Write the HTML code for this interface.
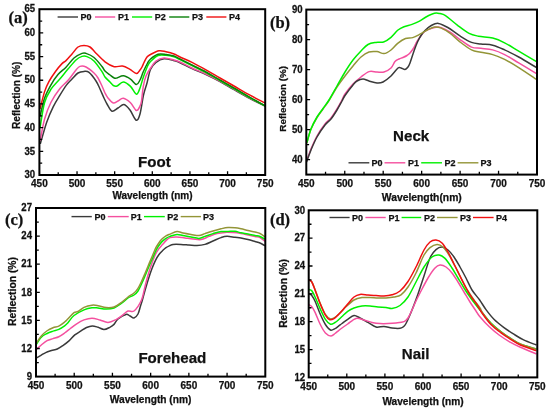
<!DOCTYPE html>
<html><head><meta charset="utf-8"><title>Reflection spectra</title>
<style>html,body{margin:0;padding:0;background:#fff;}body{width:550px;height:412px;overflow:hidden;}svg{display:block;}.t{font-family:'Liberation Sans', Arial, sans-serif;font-weight:bold;fill:#111;stroke:#111;stroke-width:0.25px;}.s{font-family:'Liberation Serif', 'Times New Roman', serif;font-weight:bold;fill:#111;stroke:#111;stroke-width:0.25px;}</style></head><body>
<svg width="550" height="412" viewBox="0 0 550 412">
<rect width="550" height="412" fill="#fff"/>
<g id="panel-a">
<path d="M40.5,143.18C41.53,139.67 44.57,128.23 46.7,122.13C48.83,116.03 51.12,111.02 53.3,106.57C55.48,102.11 57.62,98.98 59.8,95.41C61.98,91.84 64.37,87.88 66.4,85.14C68.43,82.41 70.07,81.02 72,79C73.93,76.98 76,74.27 78,73C80,71.73 82.17,71.5 84,71.4C85.83,71.3 87,70.8 89,72.4C91,74 94.17,78.23 96,81C97.83,83.77 98.67,86.17 100,89C101.33,91.83 102.83,95.5 104,98C105.17,100.5 105.67,101.8 107,104C108.33,106.2 110.17,110.53 112,111.2C113.83,111.87 116,109.12 118,108C120,106.88 122,104.17 124,104.5C126,104.83 127.97,107.38 130,110C132.03,112.62 134.53,119.53 136.2,120.2C137.87,120.87 138.78,118.2 140,114C141.22,109.8 142.33,100.17 143.5,95C144.67,89.83 145.83,87.25 147,83C148.17,78.75 149,72.92 150.5,69.5C152,66.08 153.75,64.28 156,62.5C158.25,60.72 161,59.1 164,58.8C167,58.5 171.33,60.05 174,60.7C176.67,61.35 177,61.38 180,62.7C183,64.02 187.67,66.62 192,68.6C196.33,70.58 201.33,72.43 206,74.6C210.67,76.77 215.33,79.1 220,81.6C224.67,84.1 229,86.78 234,89.6C239,92.42 244.87,95.77 250,98.5C255.13,101.23 262.33,104.75 264.8,106" fill="none" stroke="#3a3a3a" stroke-width="1.5" stroke-linejoin="round" stroke-linecap="round"/>
<path d="M40.3,140.19C41.02,136.66 42.82,125.34 44.6,119.02C46.38,112.69 48.47,107.29 51,102.26C53.53,97.23 56.87,92.56 59.8,88.81C62.73,85.06 65.9,82.89 68.6,79.76C71.3,76.62 74.1,72.23 76,70C77.9,67.77 78.33,66.9 80,66.4C81.67,65.9 83.67,65.9 86,67C88.33,68.1 92,71.17 94,73C96,74.83 96.67,75.83 98,78C99.33,80.17 100.83,83.5 102,86C103.17,88.5 104,91 105,93C106,95 106.62,96.33 108,98C109.38,99.67 111.63,102.5 113.3,103C114.97,103.5 116.33,101.8 118,101C119.67,100.2 121.22,97.92 123.3,98.2C125.38,98.48 128.32,100.65 130.5,102.7C132.68,104.75 134.82,109.95 136.4,110.5C137.98,111.05 139.15,107.58 140,106C140.85,104.42 140.95,104.27 141.5,101C142.05,97.73 142.55,90.57 143.3,86.4C144.05,82.23 144.8,79.03 146,76C147.2,72.97 148.83,70.7 150.5,68.2C152.17,65.7 153.75,62.7 156,61C158.25,59.3 161,58.17 164,58C167,57.83 171.33,59.33 174,60C176.67,60.67 177,60.67 180,62C183,63.33 187.67,66 192,68C196.33,70 201.33,71.83 206,74C210.67,76.17 215.33,78.5 220,81C224.67,83.5 229,86.17 234,89C239,91.83 244.87,95.2 250,98C255.13,100.8 262.33,104.5 264.8,105.8" fill="none" stroke="#f4509f" stroke-width="1.5" stroke-linejoin="round" stroke-linecap="round"/>
<path d="M40.2,126.69C40.93,122.66 42.8,108.77 44.6,102.52C46.4,96.26 48.47,93.08 51,89.16C53.53,85.24 56.97,82.35 59.8,79.01C62.63,75.66 65.3,72.25 68,69.08C70.7,65.91 73.67,62.11 76,60C78.33,57.89 80.17,56.97 82,56.4C83.83,55.83 85,55.83 87,56.6C89,57.37 91.5,58.5 94,61C96.5,63.5 100.17,68.93 102,71.6C103.83,74.27 103.67,75.27 105,77C106.33,78.73 108.62,80.58 110,82C111.38,83.42 112.13,84.83 113.3,85.5C114.47,86.17 115.33,86.58 117,86C118.67,85.42 121.05,81.93 123.3,82C125.55,82.07 128.32,84.37 130.5,86.4C132.68,88.43 134.82,93.93 136.4,94.2C137.98,94.47 138.85,90.82 140,88C141.15,85.18 142.03,80.97 143.3,77.3C144.57,73.63 146.4,68.63 147.6,66C148.8,63.37 148.77,63.25 150.5,61.5C152.23,59.75 155.42,56.53 158,55.5C160.58,54.47 163.33,55.08 166,55.3C168.67,55.52 171.67,56.07 174,56.8C176.33,57.53 177,58.23 180,59.7C183,61.17 187.67,63.45 192,65.6C196.33,67.75 201.33,70.1 206,72.6C210.67,75.1 215.33,77.93 220,80.6C224.67,83.27 229,85.73 234,88.6C239,91.47 244.87,94.93 250,97.8C255.13,100.67 262.33,104.47 264.8,105.8" fill="none" stroke="#00f000" stroke-width="1.5" stroke-linejoin="round" stroke-linecap="round"/>
<path d="M40.2,115.79C40.93,112.83 42.8,103.19 44.6,98.02C46.4,92.84 48.77,88.68 51,84.76C53.23,80.84 55.5,77.41 58,74.48C60.5,71.55 63.33,69.91 66,67.16C68.67,64.41 71.33,60.29 74,58C76.67,55.71 80,54.17 82,53.4C84,52.63 84,52.72 86,53.4C88,54.08 91.33,55.32 94,57.5C96.67,59.68 100.17,64.25 102,66.5C103.83,68.75 103.67,69.58 105,71C106.33,72.42 108.47,73.83 110,75C111.53,76.17 113.03,77.5 114.2,78C115.37,78.5 115.48,78.37 117,78C118.52,77.63 121.05,75.62 123.3,75.8C125.55,75.98 128.32,77.65 130.5,79.1C132.68,80.55 134.82,84.35 136.4,84.5C137.98,84.65 138.85,82.12 140,80C141.15,77.88 142.03,74.63 143.3,71.8C144.57,68.97 146.4,65.13 147.6,63C148.8,60.87 148.77,60.47 150.5,59C152.23,57.53 155.42,54.97 158,54.2C160.58,53.43 163.33,54.1 166,54.4C168.67,54.7 171.67,55.23 174,56C176.33,56.77 177,57.5 180,59C183,60.5 187.67,62.83 192,65C196.33,67.17 201.33,69.5 206,72C210.67,74.5 215.33,77.33 220,80C224.67,82.67 229,85.1 234,88C239,90.9 244.87,94.48 250,97.4C255.13,100.32 262.33,104.15 264.8,105.5" fill="none" stroke="#0a800a" stroke-width="1.5" stroke-linejoin="round" stroke-linecap="round"/>
<path d="M40.2,108.19C40.93,105.43 43.15,96.04 44.6,91.62C46.05,87.19 47.08,85 48.9,81.64C50.72,78.29 53.32,74.48 55.5,71.48C57.68,68.48 60.25,65.42 62,63.62C63.75,61.82 64.33,62.26 66,60.66C67.67,59.06 70,56.28 72,54C74,51.72 76,48.43 78,47C80,45.57 82,45.4 84,45.4C86,45.4 88,45.7 90,47C92,48.3 93.5,50.73 96,53.2C98.5,55.67 101.97,59.55 105,61.8C108.03,64.05 111.3,66 114.2,66.7C117.1,67.4 119.83,65.6 122.4,66C124.97,66.4 127.27,67.83 129.6,69.1C131.93,70.37 134.67,73.45 136.4,73.6C138.13,73.75 139.07,71.1 140,70C140.93,68.9 141.33,68.25 142,67C142.67,65.75 143.17,64.17 144,62.5C144.83,60.83 145.92,58.33 147,57C148.08,55.67 148.5,55.53 150.5,54.5C152.5,53.47 156.42,51.25 159,50.8C161.58,50.35 163.5,51.27 166,51.8C168.5,52.33 171.67,53.13 174,54C176.33,54.87 177,55.62 180,57C183,58.38 187.67,60.17 192,62.3C196.33,64.43 201.33,67.18 206,69.8C210.67,72.42 215.33,75.3 220,78C224.67,80.7 229,83.13 234,86C239,88.87 244.87,92.4 250,95.2C255.13,98 262.33,101.53 264.8,102.8" fill="none" stroke="#f01010" stroke-width="1.5" stroke-linejoin="round" stroke-linecap="round"/>
<path d="M58.22,175V172.2M77.03,175V171.2M95.85,175V172.2M114.67,175V171.2M133.48,175V172.2M152.3,175V171.2M171.12,175V172.2M189.93,175V171.2M208.75,175V172.2M227.57,175V171.2M246.38,175V172.2M39.4,163.16H42.2M39.4,151.31H43.2M39.4,139.47H42.2M39.4,127.63H43.2M39.4,115.79H42.2M39.4,103.94H43.2M39.4,92.1H42.2M39.4,80.26H43.2M39.4,68.41H42.2M39.4,56.57H43.2M39.4,44.73H42.2M39.4,32.89H43.2M39.4,21.04H42.2" stroke="#000" stroke-width="1.3" fill="none"/>
<rect x="39.4" y="9.2" width="225.8" height="165.8" fill="none" stroke="#000" stroke-width="2"/>
<text class="t" x="39.4" y="187" font-size="10.0" text-anchor="middle">450</text>
<text class="t" x="77.03" y="187" font-size="10.0" text-anchor="middle">500</text>
<text class="t" x="114.67" y="187" font-size="10.0" text-anchor="middle">550</text>
<text class="t" x="152.3" y="187" font-size="10.0" text-anchor="middle">600</text>
<text class="t" x="189.93" y="187" font-size="10.0" text-anchor="middle">650</text>
<text class="t" x="227.57" y="187" font-size="10.0" text-anchor="middle">700</text>
<text class="t" x="265.2" y="187" font-size="10.0" text-anchor="middle">750</text>
<text class="t" transform="translate(35.1,178.2) scale(1,1.06)" font-size="9.6" text-anchor="end">30</text>
<text class="t" transform="translate(35.1,154.51) scale(1,1.06)" font-size="9.6" text-anchor="end">35</text>
<text class="t" transform="translate(35.1,130.83) scale(1,1.06)" font-size="9.6" text-anchor="end">40</text>
<text class="t" transform="translate(35.1,107.14) scale(1,1.06)" font-size="9.6" text-anchor="end">45</text>
<text class="t" transform="translate(35.1,83.46) scale(1,1.06)" font-size="9.6" text-anchor="end">50</text>
<text class="t" transform="translate(35.1,59.77) scale(1,1.06)" font-size="9.6" text-anchor="end">55</text>
<text class="t" transform="translate(35.1,36.09) scale(1,1.06)" font-size="9.6" text-anchor="end">60</text>
<text class="t" transform="translate(35.1,12.4) scale(1,1.06)" font-size="9.6" text-anchor="end">65</text>
<text class="t" x="152.5" y="199.2" font-size="10" text-anchor="middle">Wavelength (nm)</text>
<text class="t" transform="translate(19.7,95.3) rotate(-90)" x="0" y="0" font-size="10.1" text-anchor="middle">Reflection (%)</text>
<text class="t" x="138.1" y="166.8" font-size="15.1">Foot</text>
<text class="s" x="8.6" y="23" font-size="16.5">(a)</text>
<path d="M57.6,17H78" stroke="#3a3a3a" stroke-width="1.4"/>
<text class="t" x="80.4" y="20" font-size="9.0">P0</text>
<path d="M95,17H115.2" stroke="#f4509f" stroke-width="1.4"/>
<text class="t" x="118" y="20" font-size="9.0">P1</text>
<path d="M132,17H152.2" stroke="#00f000" stroke-width="1.4"/>
<text class="t" x="154.8" y="20" font-size="9.0">P2</text>
<path d="M169.2,17H189.3" stroke="#0a800a" stroke-width="1.4"/>
<text class="t" x="192.1" y="20" font-size="9.0">P3</text>
<path d="M206.3,17H226.4" stroke="#f01010" stroke-width="1.4"/>
<text class="t" x="229" y="20" font-size="9.0">P4</text>
</g>
<g id="panel-b">
<path d="M306.8,160.5C307.5,158.58 309.3,153.08 311,149C312.7,144.92 314.67,140.17 317,136C319.33,131.83 322.67,127 325,124C327.33,121 329,120.5 331,118C333,115.5 335.17,112 337,109C338.83,106 340.67,102.5 342,100C343.33,97.5 343.17,96.67 345,94C346.83,91.33 350.33,86.83 353,84C355.67,81.17 358.33,79.07 361,77C363.67,74.93 366.33,72.43 369,71.6C371.67,70.77 374.5,71.93 377,72C379.5,72.07 381.67,72.67 384,72C386.33,71.33 389.17,69.75 391,68C392.83,66.25 393.67,63 395,61.5C396.33,60 397.67,59.67 399,59C400.33,58.33 401.67,58.08 403,57.5C404.33,56.92 405.83,56.25 407,55.5C408.17,54.75 408.83,54.33 410,53C411.17,51.67 412.83,49.42 414,47.5C415.17,45.58 415.33,44.08 417,41.5C418.67,38.92 421.68,34.15 424,32C426.32,29.85 428.9,29.38 430.9,28.6C432.9,27.82 434.37,27.48 436,27.3C437.63,27.12 438.33,26.68 440.7,27.5C443.07,28.32 447.05,30.23 450.2,32.2C453.35,34.17 456.05,36.82 459.6,39.3C463.15,41.78 467.95,45.6 471.5,47.1C475.05,48.6 477.37,47.83 480.9,48.3C484.43,48.77 488.75,48.85 492.7,49.9C496.65,50.95 500.27,52.43 504.6,54.6C508.93,56.77 513.38,59.73 518.7,62.9C524.02,66.07 533.53,71.82 536.5,73.6" fill="none" stroke="#f4509f" stroke-width="1.5" stroke-linejoin="round" stroke-linecap="round"/>
<path d="M306.8,161.5C307.5,159.58 309.3,154.08 311,150C312.7,145.92 314.67,141.17 317,137C319.33,132.83 322.67,128 325,125C327.33,122 329,121.5 331,119C333,116.5 335.17,113 337,110C338.83,107 340.67,103.42 342,101C343.33,98.58 343.17,98.17 345,95.5C346.83,92.83 351,87.42 353,85C355,82.58 355.33,82 357,81C358.67,80 361,79 363,79C365,79 366.67,80.33 369,81C371.33,81.67 374.67,82.83 377,83C379.33,83.17 380.67,83.17 383,82C385.33,80.83 388.5,78.33 391,76C393.5,73.67 396.33,69.33 398,68C399.67,66.67 399.83,67.75 401,68C402.17,68.25 403.83,69.67 405,69.5C406.17,69.33 407.17,68.08 408,67C408.83,65.92 409,65.67 410,63C411,60.33 412.75,54.5 414,51C415.25,47.5 416.33,44.58 417.5,42C418.67,39.42 419.75,37.42 421,35.5C422.25,33.58 423.28,32.17 425,30.5C426.72,28.83 429.07,26.68 431.3,25.5C433.53,24.32 435.65,23.07 438.4,23.4C441.15,23.73 444.27,25.45 447.8,27.5C451.33,29.55 455.65,33.22 459.6,35.7C463.55,38.18 467.95,41.02 471.5,42.4C475.05,43.78 477.37,43.53 480.9,44C484.43,44.47 488.75,44.22 492.7,45.2C496.65,46.18 500.27,47.93 504.6,49.9C508.93,51.87 513.38,54.05 518.7,57C524.02,59.95 533.53,65.83 536.5,67.6" fill="none" stroke="#3a3a3a" stroke-width="1.5" stroke-linejoin="round" stroke-linecap="round"/>
<path d="M307,142.5C307.67,140.25 309.33,133.17 311,129C312.67,124.83 315,120.83 317,117.5C319,114.17 321,111.83 323,109C325,106.17 326.67,104.17 329,100.5C331.33,96.83 334.33,91.08 337,87C339.67,82.92 342.33,79.5 345,76C347.67,72.5 350.33,69.17 353,66C355.67,62.83 358.33,59.33 361,57C363.67,54.67 366.33,52.9 369,52C371.67,51.1 374.5,51.33 377,51.6C379.5,51.87 381.67,53.87 384,53.6C386.33,53.33 388.67,51.75 391,50C393.33,48.25 395.58,45.02 398,43.1C400.42,41.18 403.05,39.42 405.5,38.5C407.95,37.58 410.28,38.32 412.7,37.6C415.12,36.88 417.57,35.47 420,34.2C422.43,32.93 424.88,31.2 427.3,30C429.72,28.8 432.27,27.35 434.5,27C436.73,26.65 438.08,26.83 440.7,27.9C443.32,28.97 447.05,31.12 450.2,33.4C453.35,35.68 456.05,38.85 459.6,41.6C463.15,44.35 467.95,48.12 471.5,49.9C475.05,51.68 477.37,51.52 480.9,52.3C484.43,53.08 488.75,53.42 492.7,54.6C496.65,55.78 500.27,57.23 504.6,59.4C508.93,61.57 513.38,64.25 518.7,67.6C524.02,70.95 533.53,77.52 536.5,79.5" fill="none" stroke="#939537" stroke-width="1.5" stroke-linejoin="round" stroke-linecap="round"/>
<path d="M307,142C307.67,139.83 309.33,133.17 311,129C312.67,124.83 315,120.42 317,117C319,113.58 321,111.33 323,108.5C325,105.67 326.67,103.75 329,100C331.33,96.25 334.33,90.67 337,86C339.67,81.33 342.33,76.33 345,72C347.67,67.67 350.33,63.5 353,60C355.67,56.5 358.5,53.58 361,51C363.5,48.42 365.5,45.93 368,44.5C370.5,43.07 373.4,42.82 376,42.4C378.6,41.98 381.1,42.85 383.6,42C386.1,41.15 388.6,39.3 391,37.3C393.4,35.3 395.83,31.77 398,30C400.17,28.23 401.67,27.63 404,26.7C406.33,25.77 409.5,25.28 412,24.4C414.5,23.52 416.67,22.63 419,21.4C421.33,20.17 423.42,18.35 426,17C428.58,15.65 432.17,13.87 434.5,13.3C436.83,12.73 438.17,13.22 440,13.6C441.83,13.98 442.62,13.68 445.5,15.6C448.38,17.52 453.37,22.13 457.3,25.1C461.23,28.07 465.55,31.55 469.1,33.4C472.65,35.25 474.67,35.42 478.6,36.2C482.53,36.98 488.37,37 492.7,38.1C497.03,39.2 500.27,40.63 504.6,42.8C508.93,44.97 513.38,47.95 518.7,51.1C524.02,54.25 533.53,59.93 536.5,61.7" fill="none" stroke="#00f000" stroke-width="1.5" stroke-linejoin="round" stroke-linecap="round"/>
<path d="M325.53,174.6V171.8M344.75,174.6V170.8M363.98,174.6V171.8M383.2,174.6V170.8M402.43,174.6V171.8M421.65,174.6V170.8M440.88,174.6V171.8M460.1,174.6V170.8M479.33,174.6V171.8M498.55,174.6V170.8M517.77,174.6V171.8M306.3,159.6H310.1M306.3,144.6H309.1M306.3,129.6H310.1M306.3,114.6H309.1M306.3,99.6H310.1M306.3,84.6H309.1M306.3,69.6H310.1M306.3,54.6H309.1M306.3,39.6H310.1M306.3,24.6H309.1" stroke="#000" stroke-width="1.3" fill="none"/>
<rect x="306.3" y="9.6" width="230.7" height="165" fill="none" stroke="#000" stroke-width="2"/>
<text class="t" x="306.3" y="186.9" font-size="10.0" text-anchor="middle">450</text>
<text class="t" x="344.75" y="186.9" font-size="10.0" text-anchor="middle">500</text>
<text class="t" x="383.2" y="186.9" font-size="10.0" text-anchor="middle">550</text>
<text class="t" x="421.65" y="186.9" font-size="10.0" text-anchor="middle">600</text>
<text class="t" x="460.1" y="186.9" font-size="10.0" text-anchor="middle">650</text>
<text class="t" x="498.55" y="186.9" font-size="10.0" text-anchor="middle">700</text>
<text class="t" x="537" y="186.9" font-size="10.0" text-anchor="middle">750</text>
<text class="t" transform="translate(302.6,162.8) scale(1,1.06)" font-size="9.6" text-anchor="end">40</text>
<text class="t" transform="translate(302.6,132.8) scale(1,1.06)" font-size="9.6" text-anchor="end">50</text>
<text class="t" transform="translate(302.6,102.8) scale(1,1.06)" font-size="9.6" text-anchor="end">60</text>
<text class="t" transform="translate(302.6,72.8) scale(1,1.06)" font-size="9.6" text-anchor="end">70</text>
<text class="t" transform="translate(302.6,42.8) scale(1,1.06)" font-size="9.6" text-anchor="end">80</text>
<text class="t" transform="translate(302.6,12.8) scale(1,1.06)" font-size="9.6" text-anchor="end">90</text>
<text class="t" x="421.8" y="201" font-size="10.35" text-anchor="middle">Wavelength(nm)</text>
<text class="t" transform="translate(286.2,98.8) rotate(-90)" x="0" y="0" font-size="9.9" text-anchor="middle">Reflection (%)</text>
<text class="t" x="393.1" y="141.4" font-size="15.1">Neck</text>
<text class="s" x="269.9" y="28.2" font-size="16.5">(b)</text>
<path d="M348.5,162.8H369.3" stroke="#3a3a3a" stroke-width="1.4"/>
<text class="t" x="371.5" y="165.8" font-size="9.0">P0</text>
<path d="M384.5,162.8H405.3" stroke="#f4509f" stroke-width="1.4"/>
<text class="t" x="408.1" y="165.8" font-size="9.0">P1</text>
<path d="M421.2,162.8H442" stroke="#00f000" stroke-width="1.4"/>
<text class="t" x="444.4" y="165.8" font-size="9.0">P2</text>
<path d="M457.6,162.8H478.4" stroke="#939537" stroke-width="1.4"/>
<text class="t" x="480.4" y="165.8" font-size="9.0">P3</text>
</g>
<g id="panel-c">
<path d="M36.2,358.1C37.05,357.6 39.72,356.05 41.3,355.13C42.88,354.2 44,353.32 45.7,352.56C47.4,351.81 49.57,351.18 51.5,350.58C53.43,349.99 55.35,349.88 57.3,349C59.25,348.12 61.25,346.68 63.2,345.32C65.15,343.96 67.07,342.56 69,340.84C70.93,339.11 72.87,336.56 74.8,334.95C76.73,333.34 78.65,332.42 80.6,331.17C82.55,329.93 84.55,328.37 86.5,327.49C88.45,326.61 90.37,325.94 92.3,325.91C94.23,325.88 96.15,326.73 98.1,327.33C100.05,327.93 102.05,329.5 104,329.5C105.95,329.5 108.13,328.15 109.8,327.3C111.47,326.45 112.63,325.78 114,324.4C115.37,323.02 116,320.67 118,319C120,317.33 124,314.9 126,314.4C128,313.9 128.67,315.4 130,316C131.33,316.6 132.67,318.33 134,318C135.33,317.67 136.92,316 138,314C139.08,312 139.77,308.33 140.5,306C141.23,303.67 141.65,302.58 142.4,300C143.15,297.42 143.98,294.05 145,290.5C146.02,286.95 147.33,282.37 148.5,278.7C149.67,275.03 150.83,271.57 152,268.5C153.17,265.43 154.33,262.63 155.5,260.3C156.67,257.97 157.83,256.1 159,254.5C160.17,252.9 161.33,251.85 162.5,250.7C163.67,249.55 164.75,248.47 166,247.6C167.25,246.73 168.83,246.03 170,245.5C171.17,244.97 171.17,244.58 173,244.4C174.83,244.22 178.33,244.3 181,244.4C183.67,244.5 186.33,244.8 189,245C191.67,245.2 194.33,245.7 197,245.6C199.67,245.5 202.33,245.17 205,244.4C207.67,243.63 210.33,242.13 213,241C215.67,239.87 218.67,238.38 221,237.6C223.33,236.82 224.67,236.35 227,236.3C229.33,236.25 232.67,237.02 235,237.3C237.33,237.58 238.83,237.63 241,238C243.17,238.37 245.67,238.92 248,239.5C250.33,240.08 253,240.92 255,241.5C257,242.08 258.42,242.33 260,243C261.58,243.67 263.75,245.08 264.5,245.5" fill="none" stroke="#3a3a3a" stroke-width="1.5" stroke-linejoin="round" stroke-linecap="round"/>
<path d="M36.2,349.5C37.05,348.75 39.48,346.49 41.3,345.01C43.12,343.53 45.15,341.68 47.1,340.61C49.05,339.54 51.05,339.26 53,338.61C54.95,337.96 56.87,337.64 58.8,336.71C60.73,335.77 62.67,334.37 64.6,333.01C66.53,331.64 68.45,330.01 70.4,328.51C72.35,327.01 74.03,325.45 76.3,324.01C78.57,322.57 81.38,320.85 84,319.88C86.62,318.9 89.33,318.12 92,318.14C94.67,318.16 97.33,319.29 100,320C102.67,320.71 105.33,322.47 108,322.4C110.67,322.33 113.67,320.73 116,319.6C118.33,318.47 120,317.03 122,315.6C124,314.17 126,311.77 128,311C130,310.23 131.75,312.83 134,311C136.25,309.17 139.67,304.08 141.5,300C143.33,295.92 143.83,290.92 145,286.5C146.17,282.08 147.33,277.42 148.5,273.5C149.67,269.58 150.83,266.22 152,263C153.17,259.78 154.33,256.62 155.5,254.2C156.67,251.78 157.83,250.1 159,248.5C160.17,246.9 161.33,245.92 162.5,244.6C163.67,243.28 164.75,241.77 166,240.6C167.25,239.43 168.17,238.2 170,237.6C171.83,237 174.5,236.93 177,237C179.5,237.07 182.33,237.67 185,238C187.67,238.33 190.33,238.73 193,239C195.67,239.27 198.33,240.03 201,239.6C203.67,239.17 206.33,237.4 209,236.4C211.67,235.4 214.33,234.27 217,233.6C219.67,232.93 222.33,232.57 225,232.4C227.67,232.23 230.33,232.42 233,232.6C235.67,232.78 238.5,233.1 241,233.5C243.5,233.9 245.67,234.5 248,235C250.33,235.5 253,236.08 255,236.5C257,236.92 258.42,236.75 260,237.5C261.58,238.25 263.75,240.42 264.5,241" fill="none" stroke="#f4509f" stroke-width="1.5" stroke-linejoin="round" stroke-linecap="round"/>
<path d="M36.2,344.6C37.05,343.36 39.48,339.05 41.3,337.19C43.12,335.34 45.15,334.48 47.1,333.47C49.05,332.47 51.05,331.84 53,331.15C54.95,330.47 56.87,330.23 58.8,329.34C60.73,328.45 63.07,326.93 64.6,325.82C66.13,324.7 66.43,324.37 68,322.65C69.57,320.93 71.33,317.65 74,315.53C76.67,313.41 81,311.22 84,309.93C87,308.63 89.67,308.08 92,307.76C94.33,307.45 95.67,307.83 98,308.04C100.33,308.25 103.33,309.01 106,309C108.67,308.99 111.33,309 114,308C116.67,307 119.67,304.67 122,303C124.33,301.33 126,299.33 128,298C130,296.67 132.33,296.17 134,295C135.67,293.83 136.75,292.83 138,291C139.25,289.17 140.33,286.5 141.5,284C142.67,281.5 143.83,278.75 145,276C146.17,273.25 147.33,270.25 148.5,267.5C149.67,264.75 150.92,262 152,259.5C153.08,257 154.13,254.4 155,252.5C155.87,250.6 156.37,249.52 157.2,248.1C158.03,246.68 159.12,245.17 160,244C160.88,242.83 161.5,242.05 162.5,241.1C163.5,240.15 164.75,239.08 166,238.3C167.25,237.52 168.17,237.05 170,236.4C171.83,235.75 174.83,234.53 177,234.4C179.17,234.27 180.67,235.17 183,235.6C185.33,236.03 188.33,236.53 191,237C193.67,237.47 196.67,238.5 199,238.4C201.33,238.3 202.67,237.2 205,236.4C207.33,235.6 210.33,234.4 213,233.6C215.67,232.8 218.5,231.95 221,231.6C223.5,231.25 225.67,231.55 228,231.5C230.33,231.45 232.83,231.08 235,231.3C237.17,231.52 238.83,232.35 241,232.8C243.17,233.25 245.67,233.55 248,234C250.33,234.45 253,235.08 255,235.5C257,235.92 258.42,235.92 260,236.5C261.58,237.08 263.75,238.58 264.5,239" fill="none" stroke="#00f000" stroke-width="1.5" stroke-linejoin="round" stroke-linecap="round"/>
<path d="M36.2,343.4C37.05,342.16 39.48,338.09 41.3,335.98C43.12,333.87 45.15,332.12 47.1,330.74C49.05,329.36 51.05,328.48 53,327.7C54.95,326.92 56.87,327.01 58.8,326.07C60.73,325.12 63.07,323.25 64.6,322.03C66.13,320.81 66.43,320.32 68,318.75C69.57,317.18 72.33,313.82 74,312.61C75.67,311.4 76.33,312.39 78,311.52C79.67,310.64 81.67,308.43 84,307.38C86.33,306.32 89.67,305.48 92,305.19C94.33,304.9 95.67,305.24 98,305.65C100.33,306.05 103.33,307.37 106,307.6C108.67,307.83 111.33,307.93 114,307C116.67,306.07 119.67,303.67 122,302C124.33,300.33 126,298.5 128,297C130,295.5 132.33,294.45 134,293C135.67,291.55 136.75,290.22 138,288.3C139.25,286.38 140.33,283.97 141.5,281.5C142.67,279.03 143.83,276.25 145,273.5C146.17,270.75 147.33,267.78 148.5,265C149.67,262.22 150.92,259.38 152,256.8C153.08,254.22 154.13,251.38 155,249.5C155.87,247.62 156.37,246.87 157.2,245.5C158.03,244.13 159.12,242.47 160,241.3C160.88,240.13 161.5,239.42 162.5,238.5C163.5,237.58 164.75,236.53 166,235.8C167.25,235.07 168.17,234.8 170,234.1C171.83,233.4 174.83,231.78 177,231.6C179.17,231.42 180.67,232.53 183,233C185.33,233.47 188.33,233.97 191,234.4C193.67,234.83 196.67,235.73 199,235.6C201.33,235.47 202.67,234.37 205,233.6C207.33,232.83 210.33,231.8 213,231C215.67,230.2 218.5,229.38 221,228.8C223.5,228.22 225.67,227.67 228,227.5C230.33,227.33 232.83,227.58 235,227.8C237.17,228.02 238.83,228.35 241,228.8C243.17,229.25 245.67,229.97 248,230.5C250.33,231.03 253,231.5 255,232C257,232.5 258.42,232.75 260,233.5C261.58,234.25 263.75,236 264.5,236.5" fill="none" stroke="#939537" stroke-width="1.5" stroke-linejoin="round" stroke-linecap="round"/>
<path d="M55.11,376.6V373.8M74.22,376.6V372.8M93.33,376.6V373.8M112.43,376.6V372.8M131.54,376.6V373.8M150.65,376.6V372.8M169.76,376.6V373.8M188.87,376.6V372.8M207.98,376.6V373.8M227.08,376.6V372.8M246.19,376.6V373.8M36,362.55H38.8M36,348.5H39.8M36,334.45H38.8M36,320.4H39.8M36,306.35H38.8M36,292.3H39.8M36,278.25H38.8M36,264.2H39.8M36,250.15H38.8M36,236.1H39.8M36,222.05H38.8" stroke="#000" stroke-width="1.3" fill="none"/>
<rect x="36" y="208" width="229.3" height="168.6" fill="none" stroke="#000" stroke-width="2"/>
<text class="t" x="36" y="388.5" font-size="10.0" text-anchor="middle">450</text>
<text class="t" x="74.22" y="388.5" font-size="10.0" text-anchor="middle">500</text>
<text class="t" x="112.43" y="388.5" font-size="10.0" text-anchor="middle">550</text>
<text class="t" x="150.65" y="388.5" font-size="10.0" text-anchor="middle">600</text>
<text class="t" x="188.87" y="388.5" font-size="10.0" text-anchor="middle">650</text>
<text class="t" x="227.08" y="388.5" font-size="10.0" text-anchor="middle">700</text>
<text class="t" x="265.3" y="388.5" font-size="10.0" text-anchor="middle">750</text>
<text class="t" transform="translate(32,379.8) scale(1,1.06)" font-size="9.6" text-anchor="end">9</text>
<text class="t" transform="translate(32,351.7) scale(1,1.06)" font-size="9.6" text-anchor="end">12</text>
<text class="t" transform="translate(32,323.6) scale(1,1.06)" font-size="9.6" text-anchor="end">15</text>
<text class="t" transform="translate(32,295.5) scale(1,1.06)" font-size="9.6" text-anchor="end">18</text>
<text class="t" transform="translate(32,267.4) scale(1,1.06)" font-size="9.6" text-anchor="end">21</text>
<text class="t" transform="translate(32,239.3) scale(1,1.06)" font-size="9.6" text-anchor="end">24</text>
<text class="t" transform="translate(32,211.2) scale(1,1.06)" font-size="9.6" text-anchor="end">27</text>
<text class="t" x="150.6" y="403.2" font-size="10.2" text-anchor="middle">Wavelength (nm)</text>
<text class="t" transform="translate(16.2,291.5) rotate(-90)" x="0" y="0" font-size="10.35" text-anchor="middle">Reflection (%)</text>
<text class="t" x="138.4" y="362.6" font-size="15.1">Forehead</text>
<text class="s" x="5" y="225.2" font-size="16.5">(c)</text>
<path d="M71.5,216.6H91.8" stroke="#3a3a3a" stroke-width="1.4"/>
<text class="t" x="94.4" y="219.6" font-size="9.0">P0</text>
<path d="M107.8,216.6H128.7" stroke="#f4509f" stroke-width="1.4"/>
<text class="t" x="130.7" y="219.6" font-size="9.0">P1</text>
<path d="M144,216.6H164.8" stroke="#00f000" stroke-width="1.4"/>
<text class="t" x="167.2" y="219.6" font-size="9.0">P2</text>
<path d="M180.7,216.6H201" stroke="#939537" stroke-width="1.4"/>
<text class="t" x="203" y="219.6" font-size="9.0">P3</text>
</g>
<g id="panel-d">
<path d="M309.3,293.8C309.72,294.08 310.82,294.22 311.8,295.5C312.78,296.78 313.78,298.37 315.2,301.5C316.62,304.63 318.6,310.47 320.3,314.3C322,318.13 323.7,321.88 325.4,324.5C327.1,327.12 328.9,329.32 330.5,330C332.1,330.68 333.7,329.22 335,328.6C336.3,327.98 337.13,327.15 338.3,326.3C339.47,325.45 340.43,324.67 342,323.5C343.57,322.33 345.7,320.62 347.7,319.3C349.7,317.98 351.95,315.82 354,315.6C356.05,315.38 357.67,316.87 360,318C362.33,319.13 365.33,320.9 368,322.4C370.67,323.9 373.33,326.33 376,327C378.67,327.67 381.33,326.23 384,326.4C386.67,326.57 389.33,327.68 392,328C394.67,328.32 398.17,328.47 400,328.3C401.83,328.13 402,327.8 403,327C404,326.2 404.5,326.33 406,323.5C407.5,320.67 410,314.92 412,310C414,305.08 416,299.67 418,294C420,288.33 422,282 424,276C426,270 428,262.4 430,258C432,253.6 434,251.43 436,249.6C438,247.77 440,246.93 442,247C444,247.07 446,248.33 448,250C450,251.67 452,254.17 454,257C456,259.83 458,263.5 460,267C462,270.5 464,274.17 466,278C468,281.83 469.75,286.37 472,290C474.25,293.63 477.17,296.53 479.5,299.8C481.83,303.07 483.55,306.32 486,309.6C488.45,312.88 491.2,316.5 494.2,319.5C497.2,322.5 500.73,325.15 504,327.6C507.27,330.05 510.53,332.15 513.8,334.2C517.07,336.25 519.92,338.13 523.6,339.9C527.28,341.67 533.85,343.98 535.9,344.8" fill="none" stroke="#3a3a3a" stroke-width="1.5" stroke-linejoin="round" stroke-linecap="round"/>
<path d="M309.3,304.9C309.72,305.18 310.82,305.32 311.8,306.6C312.78,307.88 313.78,309.62 315.2,312.6C316.62,315.58 318.6,321.1 320.3,324.5C322,327.9 323.62,331.08 325.4,333C327.18,334.92 329.4,335.92 331,336C332.6,336.08 333.78,334.37 335,333.5C336.22,332.63 337.13,331.72 338.3,330.8C339.47,329.88 340.43,329.13 342,328C343.57,326.87 345.37,325.6 347.7,324C350.03,322.4 353.28,319.07 356,318.4C358.72,317.73 361.33,319.33 364,320C366.67,320.67 369.33,321.8 372,322.4C374.67,323 377.33,323.4 380,323.6C382.67,323.8 385.33,323.7 388,323.6C390.67,323.5 393.33,323.33 396,323C398.67,322.67 402,322.43 404,321.6C406,320.77 406.67,319.93 408,318C409.33,316.07 410.67,312.83 412,310C413.33,307.17 414.67,303.83 416,301C417.33,298.17 418,296.83 420,293C422,289.17 425.5,282.17 428,278C430.5,273.83 433,270.17 435,268C437,265.83 438.17,265.17 440,265C441.83,264.83 444,265.67 446,267C448,268.33 450,270.5 452,273C454,275.5 456,278.83 458,282C460,285.17 462,288.67 464,292C466,295.33 468,298.83 470,302C472,305.17 474.42,308.63 476,311C477.58,313.37 477.28,313.57 479.5,316.2C481.72,318.83 486.03,323.67 489.3,326.8C492.57,329.93 495.55,332.4 499.1,335C502.65,337.6 507.05,340.35 510.6,342.4C514.15,344.45 516.18,345.4 520.4,347.3C524.62,349.2 533.32,352.72 535.9,353.8" fill="none" stroke="#f4509f" stroke-width="1.5" stroke-linejoin="round" stroke-linecap="round"/>
<path d="M309.3,289.6C309.72,289.8 310.82,289.53 311.8,290.8C312.78,292.07 313.78,294.15 315.2,297.2C316.62,300.25 318.6,305.4 320.3,309.1C322,312.8 323.7,316.88 325.4,319.4C327.1,321.92 328.9,323.68 330.5,324.2C332.1,324.72 333.7,323.2 335,322.5C336.3,321.8 337.13,321 338.3,320C339.47,319 340.43,317.95 342,316.5C343.57,315.05 345.7,312.72 347.7,311.3C349.7,309.88 351.62,308.88 354,308C356.38,307.12 359.33,306.33 362,306C364.67,305.67 367.33,305.83 370,306C372.67,306.17 375.33,306.77 378,307C380.67,307.23 383.67,307.17 386,307.4C388.33,307.63 389.67,308.72 392,308.4C394.33,308.08 397.33,307.4 400,305.5C402.67,303.6 405.33,300.92 408,297C410.67,293.08 413.33,287 416,282C418.67,277 421.33,271.17 424,267C426.67,262.83 429.5,259 432,257C434.5,255 436.83,254.77 439,255C441.17,255.23 442.83,256.23 445,258.4C447.17,260.57 449.83,264.73 452,268C454.17,271.27 456,274.67 458,278C460,281.33 462,284.83 464,288C466,291.17 468,294.17 470,297C472,299.83 474,302.42 476,305C478,307.58 479.52,309.5 482,312.5C484.48,315.5 487.78,319.83 490.9,323C494.02,326.17 497.42,328.92 500.7,331.5C503.98,334.08 507.32,336.37 510.6,338.5C513.88,340.63 516.18,342.55 520.4,344.3C524.62,346.05 533.32,348.22 535.9,349" fill="none" stroke="#00f000" stroke-width="1.5" stroke-linejoin="round" stroke-linecap="round"/>
<path d="M309.3,280.5C309.72,280.75 310.82,280.42 311.8,282C312.78,283.58 313.78,286.42 315.2,290C316.62,293.58 318.6,299.42 320.3,303.5C322,307.58 323.78,311.95 325.4,314.5C327.02,317.05 328.57,318.22 330,318.8C331.43,319.38 332.62,318.67 334,318C335.38,317.33 336.97,315.97 338.3,314.8C339.63,313.63 340.72,312.33 342,311C343.28,309.67 344,308.63 346,306.8C348,304.97 351.33,301.53 354,300C356.67,298.47 359.33,298 362,297.6C364.67,297.2 367.33,297.53 370,297.6C372.67,297.67 375.33,297.93 378,298C380.67,298.07 383.33,298.17 386,298C388.67,297.83 391.5,297.53 394,297C396.5,296.47 398.67,296.47 401,294.8C403.33,293.13 405.5,290.63 408,287C410.5,283.37 413.33,278.33 416,273C418.67,267.67 421.67,259.23 424,255C426.33,250.77 427.83,249.37 430,247.6C432.17,245.83 434.83,244.5 437,244.4C439.17,244.3 441,245.23 443,247C445,248.77 447,251.83 449,255C451,258.17 453,262.17 455,266C457,269.83 458.83,273.83 461,278C463.17,282.17 465.83,287.33 468,291C470.17,294.67 472,297.17 474,300C476,302.83 478.55,305.83 480,308C481.45,310.17 480.88,310.43 482.7,313C484.52,315.57 487.9,320.3 490.9,323.4C493.9,326.5 497.42,329.1 500.7,331.6C503.98,334.1 507.32,336.33 510.6,338.4C513.88,340.47 516.18,342.23 520.4,344C524.62,345.77 533.32,348.17 535.9,349" fill="none" stroke="#939537" stroke-width="1.5" stroke-linejoin="round" stroke-linecap="round"/>
<path d="M309.3,280.2C309.72,280.48 310.82,280.2 311.8,281.9C312.78,283.6 313.78,286.72 315.2,290.4C316.62,294.08 318.6,299.88 320.3,304C322,308.12 323.83,312.48 325.4,315.1C326.97,317.72 328.27,319.12 329.7,319.7C331.13,320.28 332.57,319.45 334,318.6C335.43,317.75 336.97,315.9 338.3,314.6C339.63,313.3 340.43,312.57 342,310.8C343.57,309.03 345.7,306.3 347.7,304C349.7,301.7 351.95,298.6 354,297C356.05,295.4 357.67,294.73 360,294.4C362.33,294.07 365.33,294.8 368,295C370.67,295.2 373.33,295.43 376,295.6C378.67,295.77 381.33,296.13 384,296C386.67,295.87 389.33,295.63 392,294.8C394.67,293.97 397.33,293.22 400,291C402.67,288.78 405.33,285.5 408,281.5C410.67,277.5 413.33,272.25 416,267C418.67,261.75 421.67,254.17 424,250C426.33,245.83 428,243.67 430,242C432,240.33 434,239.83 436,240C438,240.17 440,241 442,243C444,245 446,248.5 448,252C450,255.5 452,260 454,264C456,268 458,272 460,276C462,280 464,284.33 466,288C468,291.67 470.3,295.42 472,298C473.7,300.58 474.42,300.83 476.2,303.5C477.98,306.17 480.25,310.52 482.7,314C485.15,317.48 487.9,321.3 490.9,324.4C493.9,327.5 497.42,330.12 500.7,332.6C503.98,335.08 507.32,337.23 510.6,339.3C513.88,341.37 516.18,343.12 520.4,345C524.62,346.88 533.32,349.67 535.9,350.6" fill="none" stroke="#f01010" stroke-width="1.5" stroke-linejoin="round" stroke-linecap="round"/>
<path d="M327.75,377.4V374.6M346.8,377.4V373.6M365.85,377.4V374.6M384.9,377.4V373.6M403.95,377.4V374.6M423,377.4V373.6M442.05,377.4V374.6M461.1,377.4V373.6M480.15,377.4V374.6M499.2,377.4V373.6M518.25,377.4V374.6M308.7,363.47H311.5M308.7,349.55H312.5M308.7,335.62H311.5M308.7,321.7H312.5M308.7,307.77H311.5M308.7,293.85H312.5M308.7,279.93H311.5M308.7,266H312.5M308.7,252.07H311.5M308.7,238.15H312.5M308.7,224.23H311.5" stroke="#000" stroke-width="1.3" fill="none"/>
<rect x="308.7" y="210.3" width="228.6" height="167.1" fill="none" stroke="#000" stroke-width="2"/>
<text class="t" x="308.7" y="390.2" font-size="10.0" text-anchor="middle">450</text>
<text class="t" x="346.8" y="390.2" font-size="10.0" text-anchor="middle">500</text>
<text class="t" x="384.9" y="390.2" font-size="10.0" text-anchor="middle">550</text>
<text class="t" x="423" y="390.2" font-size="10.0" text-anchor="middle">600</text>
<text class="t" x="461.1" y="390.2" font-size="10.0" text-anchor="middle">650</text>
<text class="t" x="499.2" y="390.2" font-size="10.0" text-anchor="middle">700</text>
<text class="t" x="537.3" y="390.2" font-size="10.0" text-anchor="middle">750</text>
<text class="t" transform="translate(305.2,380.6) scale(1,1.06)" font-size="9.6" text-anchor="end">12</text>
<text class="t" transform="translate(305.2,352.75) scale(1,1.06)" font-size="9.6" text-anchor="end">15</text>
<text class="t" transform="translate(305.2,324.9) scale(1,1.06)" font-size="9.6" text-anchor="end">18</text>
<text class="t" transform="translate(305.2,297.05) scale(1,1.06)" font-size="9.6" text-anchor="end">21</text>
<text class="t" transform="translate(305.2,269.2) scale(1,1.06)" font-size="9.6" text-anchor="end">24</text>
<text class="t" transform="translate(305.2,241.35) scale(1,1.06)" font-size="9.6" text-anchor="end">27</text>
<text class="t" transform="translate(305.2,213.5) scale(1,1.06)" font-size="9.6" text-anchor="end">30</text>
<text class="t" x="423" y="405" font-size="10.15" text-anchor="middle">Wavelength (nm)</text>
<text class="t" transform="translate(287.3,293.5) rotate(-90)" x="0" y="0" font-size="10.3" text-anchor="middle">Reflection (%)</text>
<text class="t" x="401.8" y="358.8" font-size="15.1">Nail</text>
<text class="s" x="269.9" y="225.2" font-size="16.5">(d)</text>
<path d="M329.5,217.5H349.6" stroke="#3a3a3a" stroke-width="1.4"/>
<text class="t" x="351.9" y="220.5" font-size="9.0">P0</text>
<path d="M365.4,217.5H385.7" stroke="#f4509f" stroke-width="1.4"/>
<text class="t" x="388.6" y="220.5" font-size="9.0">P1</text>
<path d="M401.6,217.5H421.2" stroke="#00f000" stroke-width="1.4"/>
<text class="t" x="424" y="220.5" font-size="9.0">P2</text>
<path d="M437,217.5H457.6" stroke="#939537" stroke-width="1.4"/>
<text class="t" x="460" y="220.5" font-size="9.0">P3</text>
<path d="M473,217.5H493.6" stroke="#f01010" stroke-width="1.4"/>
<text class="t" x="496" y="220.5" font-size="9.0">P4</text>
</g>
</svg></body></html>
